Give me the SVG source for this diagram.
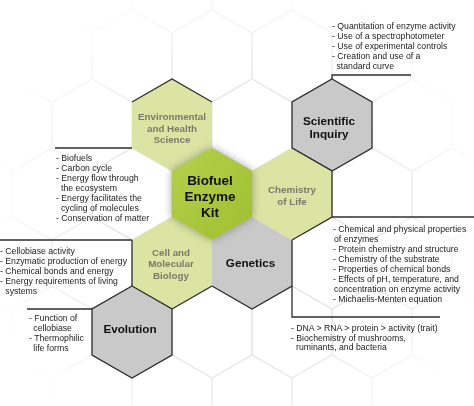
<svg xmlns="http://www.w3.org/2000/svg" xmlns:xlink="http://www.w3.org/1999/xlink" width="474" height="406" viewBox="0 0 474 406">
<style>
  .bg { fill: none; stroke: #e6e6e6; stroke-width: 1.2; }
  .lg { fill: #dbe4a2; }
  .gr { fill: #c9c9c9; }
  .gro { fill: #c9c9c9; stroke: #2e2e2e; stroke-width: 1.3; }
  .edge { fill: none; stroke: #2e2e2e; stroke-width: 1.3; }
  .conn { fill: none; stroke: #2e2e2e; stroke-width: 1.3; }
  .lab { font-family: "Liberation Sans", Arial, sans-serif; font-weight: bold; text-anchor: middle; }
  .lgt { fill: #7a7a6c; font-size: 9.8px; }
  .dk { fill: #111; font-size: 11.7px; }
  .big { fill: #111; font-size: 13.5px; }
  .bul { font-family: "Liberation Sans", Arial, sans-serif; font-size: 8.7px; fill: #222; }
</style>
<defs>
  <polygon id="hx" points="0,-46 40,-23 40,23 0,46 -40,23 -40,-23"/>
  <radialGradient id="fade" cx="240" cy="225" r="260" gradientUnits="userSpaceOnUse">
    <stop offset="0" stop-color="#fff"/>
    <stop offset="0.5" stop-color="#fff"/>
    <stop offset="1" stop-color="#000"/>
  </radialGradient>
  <mask id="bgmask" maskUnits="userSpaceOnUse" x="0" y="0" width="474" height="406">
    <rect x="0" y="0" width="474" height="406" fill="url(#fade)"/>
  </mask>
  <linearGradient id="kitg" x1="0" y1="0" x2="1" y2="1">
    <stop offset="0" stop-color="#b6d04c"/>
    <stop offset="1" stop-color="#9fbf30"/>
  </linearGradient>
  <filter id="glow" x="-30%" y="-30%" width="160%" height="160%">
    <feGaussianBlur stdDeviation="4"/>
  </filter>
</defs>
<rect x="0" y="0" width="474" height="406" fill="#fff"/>

<g id="honeycomb" class="bg" mask="url(#bgmask)">
  <use xlink:href="#hx" x="12" y="-13"/><use xlink:href="#hx" x="92" y="-13"/><use xlink:href="#hx" x="172" y="-13"/><use xlink:href="#hx" x="252" y="-13"/><use xlink:href="#hx" x="332" y="-13"/><use xlink:href="#hx" x="412" y="-13"/><use xlink:href="#hx" x="492" y="-13"/>
  <use xlink:href="#hx" x="-28" y="56"/><use xlink:href="#hx" x="52" y="56"/><use xlink:href="#hx" x="132" y="56"/><use xlink:href="#hx" x="212" y="56"/><use xlink:href="#hx" x="292" y="56"/><use xlink:href="#hx" x="372" y="56"/><use xlink:href="#hx" x="452" y="56"/>
  <use xlink:href="#hx" x="12" y="125"/><use xlink:href="#hx" x="92" y="125"/><use xlink:href="#hx" x="252" y="125"/><use xlink:href="#hx" x="412" y="125"/><use xlink:href="#hx" x="492" y="125"/>
  <use xlink:href="#hx" x="-28" y="194"/><use xlink:href="#hx" x="52" y="194"/><use xlink:href="#hx" x="132" y="194"/><use xlink:href="#hx" x="372" y="194"/><use xlink:href="#hx" x="452" y="194"/>
  <use xlink:href="#hx" x="12" y="263"/><use xlink:href="#hx" x="92" y="263"/><use xlink:href="#hx" x="332" y="263"/><use xlink:href="#hx" x="412" y="263"/><use xlink:href="#hx" x="492" y="263"/>
  <use xlink:href="#hx" x="-28" y="332"/><use xlink:href="#hx" x="52" y="332"/><use xlink:href="#hx" x="212" y="332"/><use xlink:href="#hx" x="292" y="332"/><use xlink:href="#hx" x="372" y="332"/><use xlink:href="#hx" x="452" y="332"/>
  <use xlink:href="#hx" x="12" y="401"/><use xlink:href="#hx" x="92" y="401"/><use xlink:href="#hx" x="172" y="401"/><use xlink:href="#hx" x="252" y="401"/><use xlink:href="#hx" x="332" y="401"/><use xlink:href="#hx" x="412" y="401"/>
</g>

<g id="env">
  <polygon class="lg" points="172,79 212,102 212,148 172,171 132,148 132,102"/>
  <polyline class="edge" points="132,102 172,79 212,102"/>
  <text class="lab lgt" x="172" y="120">Environmental</text>
  <text class="lab lgt" x="172" y="131.5">and Health</text>
  <text class="lab lgt" x="172" y="143">Science</text>
</g>

<g id="sci">
  <polygon class="gro" points="332,79 372,102 372,148 332,171 292,148 292,102"/>
  <text class="lab dk" x="329" y="124.5">Scientific</text>
  <text class="lab dk" x="329" y="138">Inquiry</text>
</g>

<g id="chem">
  <polygon class="lg" points="292,148 332,171 332,217 292,240 252,217 252,171"/>
  <polyline class="edge" points="292,148 332,171 332,217 292,240"/>
  <text class="lab lgt" x="292" y="193">Chemistry</text>
  <text class="lab lgt" x="292" y="204.5">of Life</text>
</g>

<g id="cell">
  <polygon class="lg" points="172,217 212,240 212,286 172,309 132,286 132,240"/>
  <polyline class="edge" points="132,240 132,286"/>
  <polyline class="edge" points="172,309 212,286"/>
  <text class="lab lgt" x="171" y="255.5">Cell and</text>
  <text class="lab lgt" x="171" y="267">Molecular</text>
  <text class="lab lgt" x="171" y="278.5">Biology</text>
</g>

<g id="genetics">
  <polygon class="gr" points="252,217 292,240 292,286 252,309 212,286 212,240"/>
  <polyline class="edge" points="212,286 252,309 292,286 292,240"/>
  <text class="lab dk" x="250.5" y="267">Genetics</text>
</g>

<g id="evolution">
  <polygon class="gro" points="132,286 172,309 172,355 132,378 92,355 92,309"/>
  <text class="lab dk" x="130" y="333">Evolution</text>
</g>

<g id="kit">
  <polygon points="212,148 252,171 252,217 212,240 172,217 172,171" fill="#555" opacity="0.55" filter="url(#glow)"/>
  <polygon fill="url(#kitg)" points="212,148 252,171 252,217 212,240 172,217 172,171"/>
  <text class="lab big" x="210" y="185">Biofuel</text>
  <text class="lab big" x="210" y="201">Enzyme</text>
  <text class="lab big" x="210" y="217">Kit</text>
</g>

<g id="connectors">
  <polyline class="conn" points="55,148 132,148"/>
  <polyline class="conn" points="332,79 332,75 411,75"/>
  <polyline class="conn" points="332,217 474,217"/>
  <polyline class="conn" points="292,286 292,317 440,317"/>
  <polyline class="conn" points="0,240 132,240"/>
  <polyline class="conn" points="27,309 92,309"/>
</g>

<g id="env-notes" class="bul">
  <text x="56" y="161">- Biofuels</text>
  <text x="56" y="171">- Carbon cycle</text>
  <text x="56" y="181">- Energy flow through</text>
  <text x="61" y="191">the ecosystem</text>
  <text x="56" y="201">- Energy facilitates the</text>
  <text x="61" y="211">cycling of molecules</text>
  <text x="56" y="221">- Conservation of matter</text>
</g>

<g id="sci-notes" class="bul">
  <text x="332" y="28.5">- Quantitation of enzyme activity</text>
  <text x="332" y="38.7">- Use of a spectrophotometer</text>
  <text x="332" y="48.9">- Use of experimental controls</text>
  <text x="332" y="59.1">- Creation and use of a</text>
  <text x="336.5" y="69.3">standard curve</text>
</g>

<g id="chem-notes" class="bul">
  <text x="333" y="232.3">- Chemical and physical properties</text>
  <text x="334" y="242.2">of enzymes</text>
  <text x="333" y="252.1">- Protein chemistry and structure</text>
  <text x="333" y="262">- Chemistry of the substrate</text>
  <text x="333" y="271.9">- Properties of chemical bonds</text>
  <text x="333" y="281.8">- Effects of pH, temperature, and</text>
  <text x="334" y="291.7">concentration on enzyme activity</text>
  <text x="333" y="301.6">- Michaelis-Menten equation</text>
</g>

<g id="genetics-notes" class="bul">
  <text x="291" y="331">- DNA &gt; RNA &gt; protein &gt; activity (trait)</text>
  <text x="291" y="340.6">- Biochemistry of mushrooms,</text>
  <text x="296" y="350.2">ruminants, and bacteria</text>
</g>

<g id="cell-notes" class="bul">
  <text x="0" y="254">- Cellobiase activity</text>
  <text x="0" y="264">- Enzymatic production of energy</text>
  <text x="0" y="274">- Chemical bonds and energy</text>
  <text x="0" y="284">- Energy requirements of living</text>
  <text x="5.3" y="294">systems</text>
</g>

<g id="evolution-notes" class="bul">
  <text x="29" y="321">- Function of</text>
  <text x="33.3" y="331">cellobiase</text>
  <text x="29" y="341">- Thermophilic</text>
  <text x="33.3" y="351">life forms</text>
</g>
</svg>
